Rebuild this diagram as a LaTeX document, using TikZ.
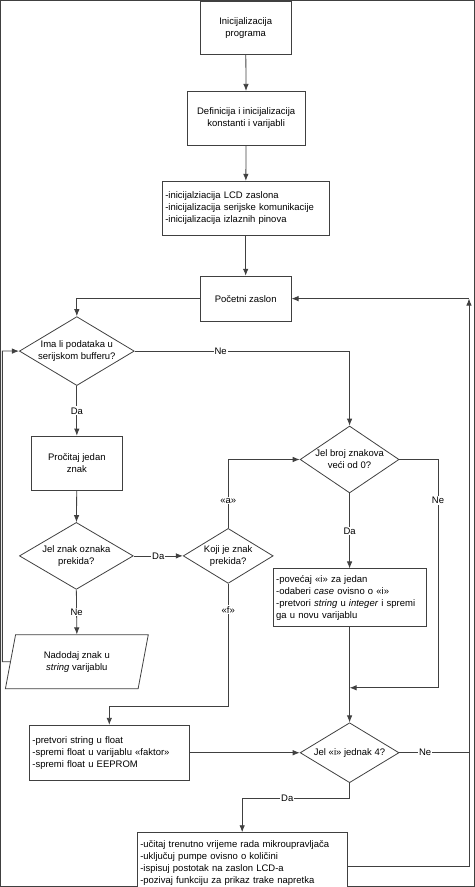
\documentclass[tikz,border=0pt]{standalone}
\usepackage{fontspec}
\setmainfont{Liberation Sans}
\usetikzlibrary{shapes.geometric,arrows.meta,positioning}

\begin{document}
\begin{tikzpicture}
[x=1pt,y=-1pt,>={Latex[length=7pt,width=5.5pt]},
 every node/.style={font=\fontsize{9.5}{12}\selectfont},
 box/.style={draw=black!75,fill=white,line width=0.8pt,inner sep=3pt,align=center},
 listbox/.style={box,align=left},
 decision/.style={draw=black!75,fill=white,line width=0.8pt,diamond,inner sep=0pt},
 para/.style={draw=black!75,fill=white,line width=0.8pt,trapezium,trapezium left angle=64,
   trapezium right angle=116,trapezium stretches body,inner sep=0pt,align=center},
 lbl/.style={fill=white,inner sep=1pt},
 every path/.style={draw=black!75,line width=0.8pt}]
\useasboundingbox (0,0) rectangle (474,887);

\node[box,minimum width=91,minimum height=53] (init) at (245.5,28) {Inicijalizacija\\programa};
\node[box,minimum width=118,minimum height=54] (defs) at (246,118) {Definicija i inicijalizacija\\konstanti i varijabli};
\node[listbox,text width=161,minimum height=54] (setup) at (245.5,208)
  {-inicijalziacija LCD zaslona\\-inicijalizacija serijske komunikacije\\-inicijalizacija izlaznih pinova};
\node[box,minimum width=91,minimum height=45] (start) at (245.5,298.5) {Početni zaslon};
\node[decision,minimum width=115,minimum height=69,
  label={[align=center]center:Ima li podataka u\\serijskom bufferu?}] (qbuf) at (76.5,351) {};
\node[box,minimum width=91,minimum height=54] (read) at (76.5,463) {Pročitaj jedan\\znak};
\node[decision,minimum width=114,minimum height=67,
  label={[align=center]center:Jel znak oznaka\\prekida?}] (qbrk) at (76,556) {};
\node[decision,minimum width=90,minimum height=55,
  label={[align=center]center:Koji je znak\\prekida?}] (qwhich) at (228,556) {};
\node[decision,minimum width=99,minimum height=67,
  label={[align=center]center:Jel broj znakova\\veći od 0?}] (qcnt) at (349.5,459.5) {};
\node[listbox,text width=147,minimum height=58] (inc) at (349.5,598)
  {-povećaj «i» za jedan\\-odaberi \textit{case} ovisno o «i»\\-pretvori \textit{string} u \textit{integer} i spremi\\ga u novu varijablu};
\node[para,minimum width=143,minimum height=54] (add) at (76.5,662) {Nadodaj znak u\\\textit{string} varijablu};
\node[listbox,text width=154,minimum height=55] (save) at (109,753)
  {-pretvori string u float\\-spremi float u varijablu «faktor»\\-spremi float u EEPROM};
\node[decision,minimum width=99,minimum height=60,
  label={center:Jel «i» jednak 4?}] (qfour) at (349.5,753) {};
\node[listbox,text width=204,minimum height=60] (done) at (242,863)
  {-učitaj trenutno vrijeme rada mikroupravljača\\-uključuj pumpe ovisno o količini\\-ispisuj postotak na zaslon LCD-a\\-pozivaj funkciju za prikaz trake napretka};

\coordinate (loopL) at (2,662);
\coordinate (rtop) at (469,298.5);
\coordinate (neR) at (438,688);
\coordinate (fbend) at (228,707);
\coordinate (dbend) at (349.5,799);

\draw[->] (init) -- (defs);
\draw[->] (defs) -- (setup);
\draw[->] (setup) -- (start);
\draw[->] (start.west) -| (qbuf.north);
\draw[->] (qbuf.east) -| node[lbl,pos=0.2]{Ne} (qcnt.north);
\draw[->] (qbuf.south) -- node[lbl]{Da} (read.north);
\draw[->] (read) -- (qbrk);
\draw[->] (qbrk.east) -- node[lbl]{Da} (qwhich.west);
\draw[->] (qbrk.south) -- node[lbl]{Ne} (add.north);
\draw[->] (add.west) -- (loopL) |- (qbuf.west);
\draw[->] (qwhich.north) |- node[lbl,pos=0.2]{«a»} (qcnt.west);
\draw[->] (qwhich.south) -- node[lbl,pos=0.21]{«f»} (fbend) -| (save.north);
\draw[->] (qcnt.south) -- node[lbl]{Da} (inc.north);
\draw[->] (qcnt.east) -| node[lbl,pos=0.59]{Ne} (neR) -- (neR -| inc.south);
\draw[->] (inc) -- (qfour);
\draw[->] (save.east) -- (qfour.west);
\draw (qfour.east) -- node[lbl,pos=0.37]{Ne} (qfour.east -| rtop);
\draw[->] (qfour.south) -- (dbend) -| node[lbl,pos=0.29]{Da} (done.north);
\draw[->] ([yshift=-4pt]done.east) -| (rtop);
\draw[->] (rtop) -- (start.east);
\end{tikzpicture}
\end{document}
